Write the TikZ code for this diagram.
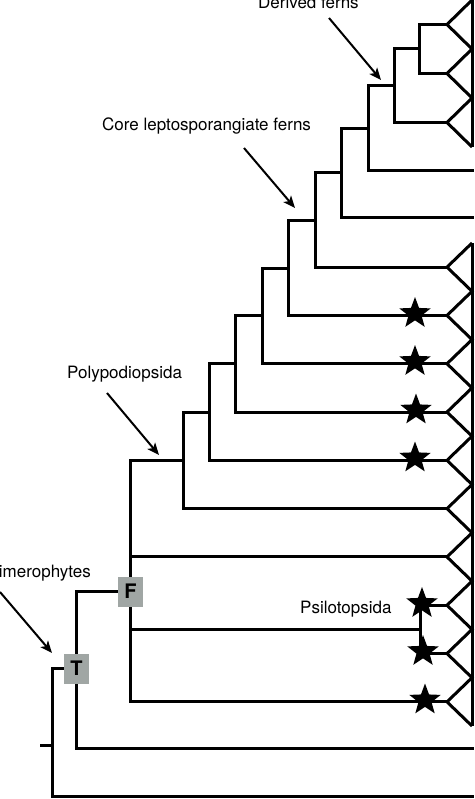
\documentclass[tikz,border=0pt]{standalone}
\usepackage{fontspec}
\setmainfont{TeX Gyre Heros}
\usetikzlibrary{shapes.geometric,arrows.meta}
\definecolor{boxgray}{HTML}{A0A6A4}
\begin{document}
\begin{tikzpicture}[x=1pt,y=-1pt,
  br/.style={line width=3pt,line join=miter},
  lbl/.style={font=\fontsize{17}{20}\selectfont,inner sep=0pt,anchor=base west},
  ptr/.style={line width=2pt,-{Stealth[length=12pt,width=10pt,inset=3pt]}},
  letterbox/.style={fill=boxgray,minimum width=25pt,minimum height=30pt,inner sep=0pt,font=\fontsize{20}{20}\selectfont\bfseries},
  starmark/.style={star,star points=5,star point ratio=2.4,fill=black,minimum size=33pt,inner sep=0pt}
]
\useasboundingbox (0,0) rectangle (474,799);
\clip (0,0) rectangle (474,799);

% leaves: column 1 apexes
\coordinate (a1) at (447,24.5);
\coordinate (a2) at (447,73.5);
\coordinate (a3) at (447,122.5);
% leaves: column 2 apexes
\coordinate (b1) at (447,267.15);
\coordinate (b2) at (447,315.45);
\coordinate (b3) at (447,363.75);
\coordinate (b4) at (447,412.05);
\coordinate (b5) at (447,460.35);
\coordinate (b6) at (447,508.65);
\coordinate (b7) at (447,556.95);
\coordinate (b8) at (447,605.25);
\coordinate (b9) at (447,653.55);
\coordinate (b10) at (447,701.85);
% plain leaves
\coordinate (l1) at (474,171);
\coordinate (l2) at (474,218);
\coordinate (l3) at (474,748);
\coordinate (l4) at (474,796);
% internal nodes
\coordinate (n12) at (419,49);
\coordinate (n123) at (394,86);
\coordinate (n4) at (368,128.5);
\coordinate (n5) at (341,173);
\coordinate (n6) at (315,220.5);
\coordinate (n7) at (288,268);
\coordinate (n8) at (262,315.5);
\coordinate (n9) at (235,363.5);
\coordinate (n10) at (209,412);
\coordinate (n11) at (183,460);
\coordinate (ps) at (420,629);
\coordinate (root) at (52,745);
\coordinate (stub) at (40,745);

% branches
\draw[br] (a1) -| (n12) |- (a2);
\draw[br] (n12) -| (n123) |- (a3);
\draw[br] (n123) -| (n4) |- (l1);
\draw[br] (n4) -| (n5) |- (l2);
\draw[br] (n5) -| (n6) |- (b1);
\draw[br] (n6) -| (n7) |- (b2);
\draw[br] (n7) -| (n8) |- (b3);
\draw[br] (n8) -| (n9) |- (b4);
\draw[br] (n9) -| (n10) |- (b5);
\draw[br] (n10) -| (n11) |- (b6);
\draw[br] (b8) -| (ps) |- (b9);

\node[letterbox] (F) at (130.5,591.5) {};
\node[letterbox] (T) at (76.5,668.5) {};

\draw[br] (n11) -| (F.center) |- (b10);
\draw[br] (F.center |- b7) -- (b7);
\draw[br] (F.center |- ps) -- (ps);
\draw[br] (F.center) -| (T.center) |- (l3);
\draw[br] (T.center) -| (root) |- (l4);
\draw[br] (stub) -- (root);

% clade triangles
\draw[br] (472,0) -- (472,147);
\draw[br] (472,0) -- (a1) -- (472,49) -- (a2) -- (472,98) -- (a3) -- (472,147);
\draw[br] (472,243) -- (472,726);
\draw[br] (472,243) -- (b1) -- (472,291.3) -- (b2) -- (472,339.6) -- (b3) -- (472,387.9) -- (b4) -- (472,436.2) -- (b5) -- (472,484.5) -- (b6) -- (472,532.8) -- (b7) -- (472,581.1) -- (b8) -- (472,629.4) -- (b9) -- (472,677.7) -- (b10) -- (472,726);

% boxes on top
\node[letterbox] at (F) {F};
\node[letterbox] at (T) {T};

% stars
\node[starmark] (s1) at (415,313.5) {};
\node[starmark] (s2) at (415,361.5) {};
\node[starmark] (s3) at (416,410) {};
\node[starmark] (s4) at (415,458) {};
\node[starmark] (s5) at (422,603.5) {};
\node[starmark] (s6) at (423,651.5) {};
\node[starmark] (s7) at (425,700) {};

% labels
\node[lbl] (derived) at (258,9) {Derived ferns};
\node[lbl] (core) at (102,131) {Core leptosporangiate ferns};
\node[lbl] (poly) at (67,378) {Polypodiopsida};
\node[lbl] (psilo) at (300,613) {Psilotopsida};
\node[lbl,anchor=base east] (trim) at (91,577) {Trimerophytes};

% pointers
\coordinate (dA) at (329,18);   \coordinate (dB) at (381,80);
\coordinate (cA) at (244,148);  \coordinate (cB) at (295,208);
\coordinate (pA) at (107,393);  \coordinate (pB) at (159,455);
\coordinate (tA) at (0,592);    \coordinate (tB) at (52,653);
\draw[ptr] (dA) -- (dB);
\draw[ptr] (cA) -- (cB);
\draw[ptr] (pA) -- (pB);
\draw[ptr] (tA) -- (tB);
\end{tikzpicture}
\end{document}
